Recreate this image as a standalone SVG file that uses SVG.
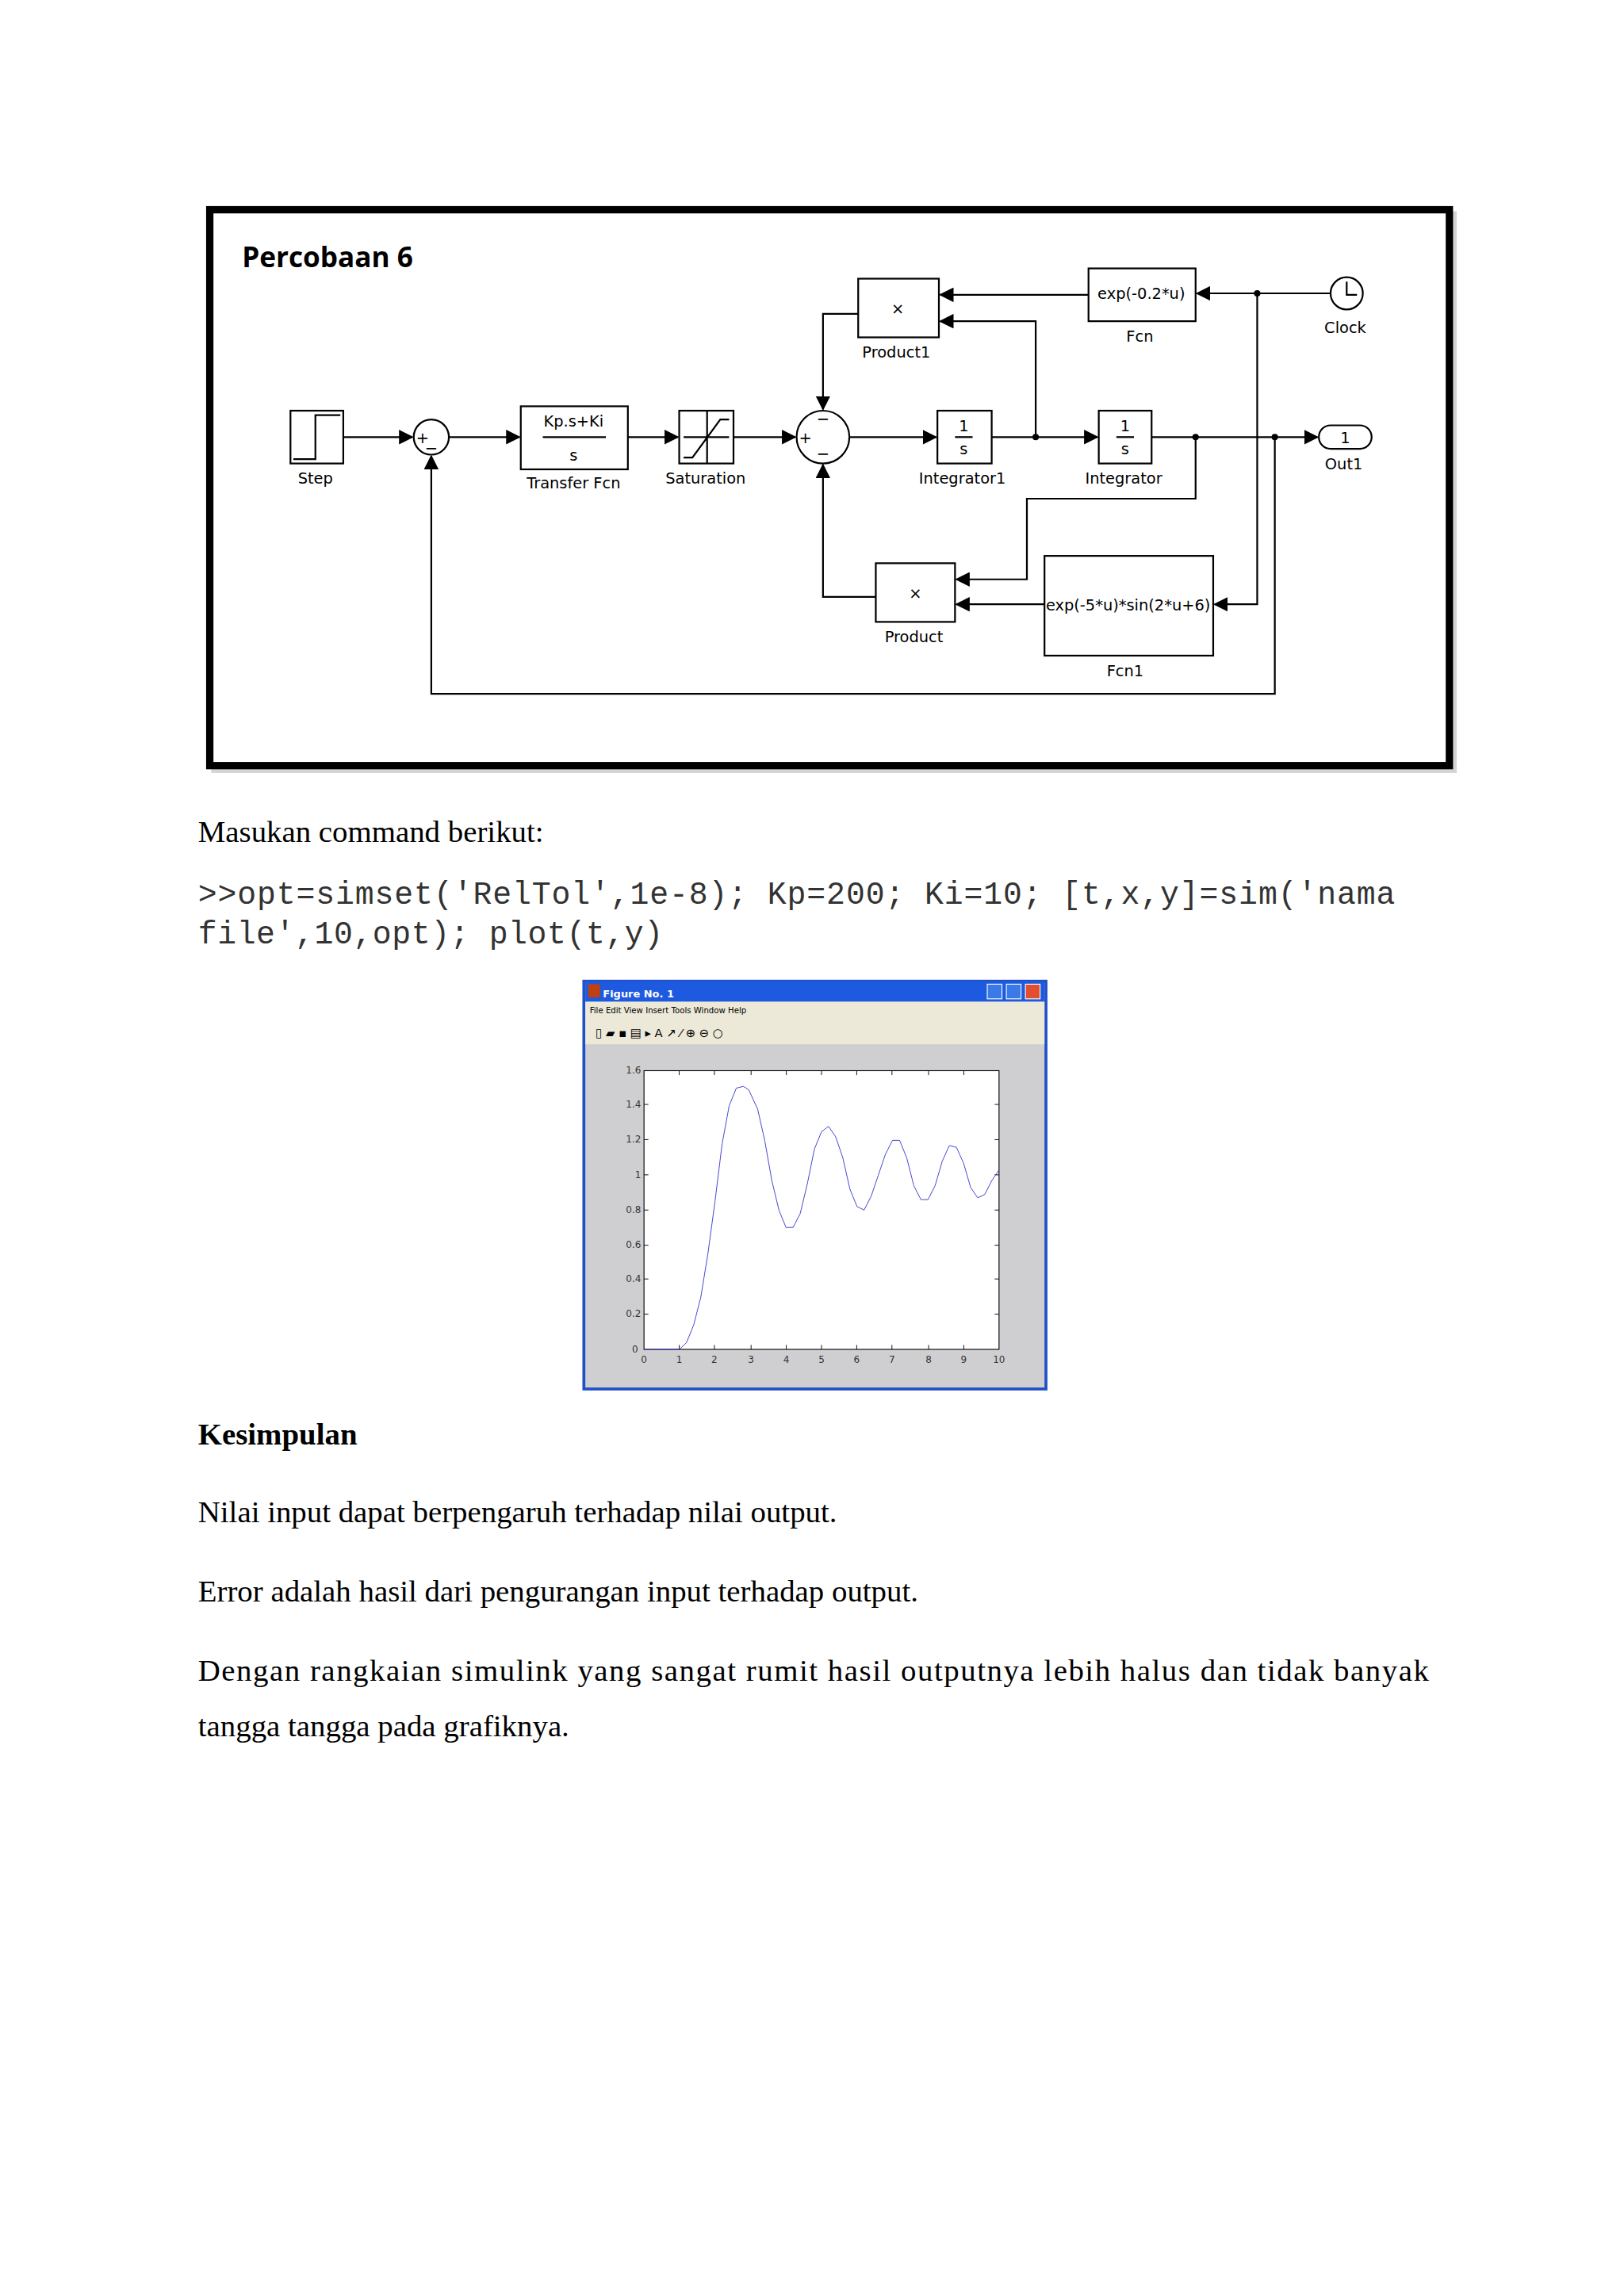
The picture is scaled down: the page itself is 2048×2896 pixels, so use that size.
<svg xmlns="http://www.w3.org/2000/svg" width="2048" height="2896" viewBox="0 0 2048 2896">
<style>
.b{fill:#fff;stroke:#000;stroke-width:1.2}
.w{fill:none;stroke:#000;stroke-width:1.2}
.t{font-family:"DejaVu Sans",sans-serif;font-size:10.5px;fill:#000;text-anchor:middle}
.s{font-family:"Liberation Serif",serif;font-size:21px;fill:#000}
.m{font-family:"Liberation Mono",monospace;font-size:21.5px;fill:#333}
.k{font-family:"DejaVu Sans",sans-serif;font-size:6.5px;fill:#333;text-anchor:middle}
</style>
<defs><marker id="a" markerWidth="10" markerHeight="10" refX="9" refY="5" orient="auto" markerUnits="userSpaceOnUse"><path d="M0,0L10,5L0,10z" fill="#000"/></marker></defs>
<rect width="2048" height="2896" fill="#fff"/>
<g transform="scale(1.85)">
<rect x="144" y="144" width="849" height="383" fill="#aaa" opacity="0.5"/>
<rect x="143" y="143" width="845" height="379" fill="#fff" stroke="#000" stroke-width="5"/>
<text x="165" y="182" font-family="'Open Sans',sans-serif" font-weight="bold" font-size="19">Percobaan 6</text>
<g id="connectors" class="w">
<path d="M234,298H281" marker-end="url(#a)"/>
<path d="M306,298H354" marker-end="url(#a)"/>
<path d="M428,298H462" marker-end="url(#a)"/>
<path d="M500,298H542" marker-end="url(#a)"/>
<path d="M579,298H638" marker-end="url(#a)"/>
<path d="M676,298H748" marker-end="url(#a)"/>
<path d="M785,298H898" marker-end="url(#a)"/>
<path d="M907,200H816" marker-end="url(#a)"/>
<path d="M742,201H641" marker-end="url(#a)"/>
<path d="M706,298V219H641" marker-end="url(#a)"/>
<path d="M585,214H561V279" marker-end="url(#a)"/>
<path d="M857,200V412H828" marker-end="url(#a)"/>
<path d="M712,412H652" marker-end="url(#a)"/>
<path d="M815,298V340H700V395H652" marker-end="url(#a)"/>
<path d="M597,407H561V317" marker-end="url(#a)"/>
<path d="M869,298V473H294V311" marker-end="url(#a)"/>
<circle cx="706" cy="298" r="1.6" fill="#000"/><circle cx="815" cy="298" r="1.6" fill="#000"/><circle cx="869" cy="298" r="1.6" fill="#000"/><circle cx="857" cy="200" r="1.6" fill="#000"/>
</g>
<g id="step"><rect class="b" x="198" y="280" width="36" height="36"/><path class="w" d="M200,313H215V283H232"/><text class="t" x="215" y="330">Step</text></g>
<g id="sum1"><circle class="b" cx="294" cy="298" r="12"/><text class="t" x="288" y="302" font-size="9">+</text><text class="t" x="294" y="309" font-size="9">−</text></g>
<g id="tf"><rect class="b" x="355" y="277" width="73" height="43"/><text class="t" x="391" y="291">Kp.s+Ki</text><path class="w" d="M370,298H413"/><text class="t" x="391" y="314">s</text><text class="t" x="391" y="333">Transfer Fcn</text></g>
<g id="sat"><rect class="b" x="463" y="280" width="37" height="36"/><path class="w" d="M482,280V316M466,312H472L491,286H497M466,298H497" stroke-width="0.8"/><text class="t" x="481" y="330">Saturation</text></g>
<g id="sum2"><circle class="b" cx="561" cy="298" r="18"/><text class="t" x="549" y="302" font-size="9">+</text><text class="t" x="561" y="289" font-size="9">−</text><text class="t" x="561" y="313" font-size="9">−</text></g>
<g id="int1"><rect class="b" x="639" y="280" width="37" height="36"/><text class="t" x="657" y="294">1</text><path class="w" d="M651,298H663" stroke-width="0.8"/><text class="t" x="657" y="310">s</text><text class="t" x="656" y="330">Integrator1</text></g>
<g id="int"><rect class="b" x="749" y="280" width="36" height="36"/><text class="t" x="767" y="294">1</text><path class="w" d="M761,298H773" stroke-width="0.8"/><text class="t" x="767" y="310">s</text><text class="t" x="766" y="330">Integrator</text></g>
<g id="out1"><rect class="b" x="899" y="290" width="36" height="16" rx="8"/><text class="t" x="917" y="302">1</text><text class="t" x="916" y="320">Out1</text></g>
<g id="clock"><circle class="b" cx="918" cy="200" r="11"/><path class="w" d="M918,192V201H925"/><text class="t" x="917" y="227">Clock</text></g>
<g id="fcn"><rect class="b" x="742" y="183" width="73" height="36"/><text class="t" x="778" y="204">exp(-0.2*u)</text><text class="t" x="777" y="233">Fcn</text></g>
<g id="product1"><rect class="b" x="585" y="190" width="55" height="40"/><text class="t" x="612" y="214" font-size="12">×</text><text class="t" x="611" y="244">Product1</text></g>
<g id="fcn1"><rect class="b" x="712" y="379" width="115" height="68"/><text class="t" x="769" y="416">exp(-5*u)*sin(2*u+6)</text><text class="t" x="767" y="461">Fcn1</text></g>
<g id="product"><rect class="b" x="597" y="384" width="54" height="40"/><text class="t" x="624" y="408" font-size="12">×</text><text class="t" x="623" y="438">Product</text></g>

<text class="s" x="135" y="574">Masukan command berikut:</text>
<text class="m" x="135" y="616" textLength="816">&gt;&gt;opt=simset('RelTol',1e-8); Kp=200; Ki=10; [t,x,y]=sim('nama</text>
<text class="m" x="135" y="643" textLength="317">file',10,opt); plot(t,y)</text>

<g id="figure">
<rect x="398" y="669" width="315" height="278" fill="#cfcfd2" stroke="#2050c8" stroke-width="2"/>
<rect x="399" y="669" width="313" height="14" fill="#1e5ae0"/>
<text x="411" y="680" font-family="'DejaVu Sans',sans-serif" font-size="7" font-weight="bold" fill="#fff">Figure No. 1</text>
<rect x="401" y="671" width="8" height="9" fill="#c04010"/>
<rect x="673" y="671" width="10" height="10" fill="#3a7ae8" stroke="#fff" stroke-width="0.6"/>
<rect x="686" y="671" width="10" height="10" fill="#3a7ae8" stroke="#fff" stroke-width="0.6"/>
<rect x="699" y="671" width="10" height="10" fill="#e05030" stroke="#fff" stroke-width="0.6"/>
<rect x="399" y="683" width="313" height="29" fill="#ece9d8"/>
<text x="402" y="691" font-family="'DejaVu Sans',sans-serif" font-size="5.5" fill="#000">File   Edit   View   Insert   Tools   Window   Help</text>
<text x="406" y="707" font-family="'DejaVu Sans',sans-serif" font-size="8" fill="#000">▯ ▰ ▪ ▤ ▸ A ↗ ⁄ ⊕ ⊖ ○</text>
<rect x="439" y="730" width="242" height="190" fill="#fff" stroke="#000" stroke-width="0.6"/>
<g stroke="#000" stroke-width="0.5">
<path d="M463,920v-3M487,920v-3M512,920v-3M536,920v-3M560,920v-3M584,920v-3M608,920v-3M633,920v-3M657,920v-3M463,730v3M487,730v3M512,730v3M536,730v3M560,730v3M584,730v3M608,730v3M633,730v3M657,730v3"/>
<path d="M439,896h3M439,872h3M439,849h3M439,825h3M439,801h3M439,777h3M439,753h3M681,896h-3M681,872h-3M681,849h-3M681,825h-3M681,801h-3M681,777h-3M681,753h-3"/>
</g>
<g class="k"><text x="435" y="922" text-anchor="end">0</text><text x="437" y="898" text-anchor="end">0.2</text><text x="437" y="874" text-anchor="end">0.4</text><text x="437" y="851" text-anchor="end">0.6</text><text x="437" y="827" text-anchor="end">0.8</text><text x="437" y="803" text-anchor="end">1</text><text x="437" y="779" text-anchor="end">1.2</text><text x="437" y="755" text-anchor="end">1.4</text><text x="437" y="732" text-anchor="end">1.6</text>
<text x="439" y="929">0</text><text x="463" y="929">1</text><text x="487" y="929">2</text><text x="512" y="929">3</text><text x="536" y="929">4</text><text x="560" y="929">5</text><text x="584" y="929">6</text><text x="608" y="929">7</text><text x="633" y="929">8</text><text x="657" y="929">9</text><text x="681" y="929">10</text></g>
<g transform="translate(439,920) scale(24.2,-118.75)"><polyline fill="none" stroke="#3333cc" stroke-width="0.9" vector-effect="non-scaling-stroke" points="0,0 1,0 1.2,0.04 1.4,0.14 1.6,0.3 1.8,0.55 2,0.85 2.2,1.18 2.4,1.4 2.6,1.5 2.8,1.51 2.95,1.49 3.2,1.38 3.4,1.2 3.6,0.97 3.8,0.8 4,0.7 4.2,0.7 4.4,0.78 4.6,0.95 4.8,1.15 5,1.25 5.2,1.28 5.4,1.22 5.6,1.1 5.8,0.92 6,0.82 6.2,0.8 6.4,0.88 6.6,1 6.8,1.12 7,1.2 7.2,1.2 7.4,1.1 7.6,0.94 7.8,0.86 8,0.86 8.2,0.94 8.4,1.08 8.6,1.17 8.8,1.16 9,1.07 9.2,0.93 9.4,0.87 9.6,0.89 9.8,0.97 10,1.03"/></g>
</g>

<text class="s" x="135" y="985" font-weight="bold">Kesimpulan</text>
<text class="s" x="135" y="1038">Nilai input dapat berpengaruh terhadap nilai output.</text>
<text class="s" x="135" y="1092">Error adalah hasil dari pengurangan input terhadap output.</text>
<text class="s" x="135" y="1146" textLength="839" lengthAdjust="spacing">Dengan rangkaian simulink yang sangat rumit hasil outputnya lebih halus dan tidak banyak</text>
<text class="s" x="135" y="1184">tangga tangga pada grafiknya.</text>
</g>
</svg>
